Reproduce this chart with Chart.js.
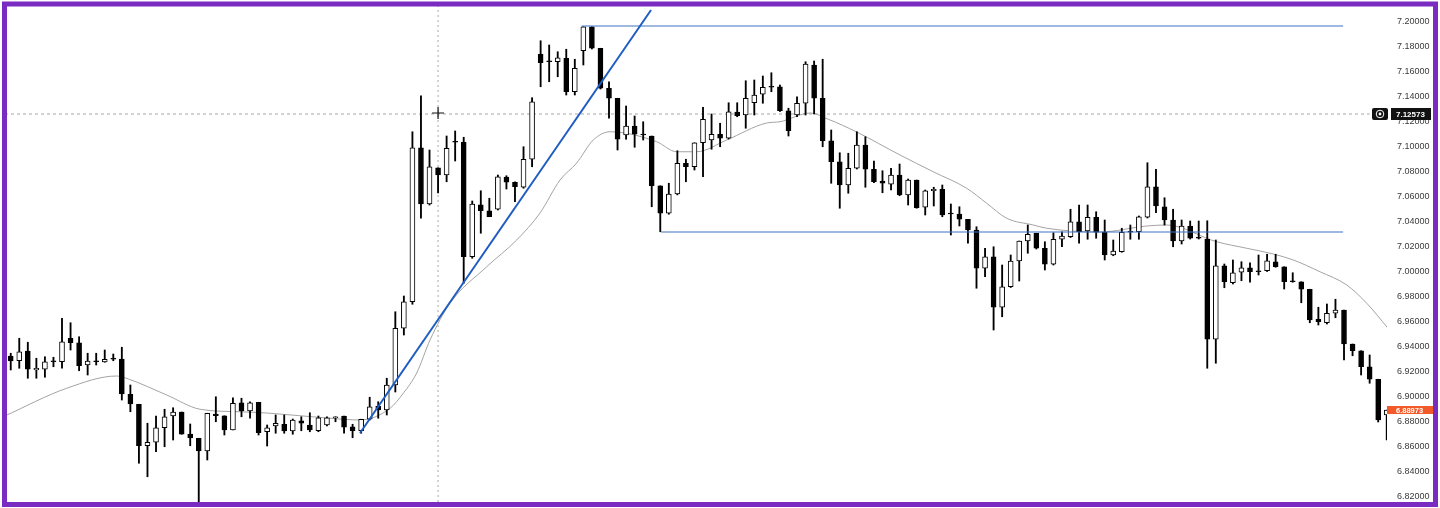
<!DOCTYPE html>
<html><head><meta charset="utf-8">
<script src="https://cdn.jsdelivr.net/npm/chart.js@4.4.1/dist/chart.umd.min.js"></script>
<style>html,body{margin:0;padding:0;background:#fff;overflow:hidden}canvas{display:block}</style>
</head><body>
<canvas id="c" width="1440" height="508"></canvas>
<script>
const open=[
6.9326,6.9288,6.9366,6.9214,6.9220,6.9280,6.9280,6.9468,6.9432,6.9254,
6.9280,6.9278,6.9300,6.9302,6.9020,6.8940,6.8608,6.8636,6.8752,6.8846,
6.8878,6.8702,6.8668,6.8566,6.8862,6.8848,6.8734,6.8952,6.8886,6.8956,
6.8720,6.8766,6.8780,6.8726,6.8808,6.8774,6.8728,6.8774,6.8832,6.8846,
6.8760,6.8728,6.8820,6.8926,6.8894,6.9094,6.9548,6.9760,7.0992,7.0542,
7.0832,7.0774,7.1036,7.1036,7.0120,7.0536,7.0488,7.0500,7.0758,7.0716,
7.0676,7.0900,7.1740,7.1680,7.1680,7.1708,7.1440,7.1768,7.1960,7.1788,
7.1468,7.1388,7.1094,7.1166,7.1094,7.1086,7.0688,7.0468,7.0622,7.0868,
7.0840,7.1032,7.1054,7.1100,7.1068,7.1278,7.1254,7.1352,7.1420,7.1476,
7.1480,7.1288,7.1254,7.1348,7.1654,7.1388,7.1048,7.0880,7.0694,7.0828,
7.1014,7.0820,7.0726,7.0700,7.0774,7.0614,7.0734,7.0516,7.0648,7.0660,
7.0462,7.0462,7.0420,7.0334,7.0028,7.0120,6.9716,6.9880,7.0086,7.0246,
7.0308,7.0188,7.0060,7.0260,7.0280,7.0400,7.0326,7.0436,7.0316,7.0134,
7.0160,7.0316,7.0320,7.0436,7.0680,7.0520,7.0414,7.0246,7.0366,7.0268,
7.0262,6.9460,7.0048,6.9912,6.9996,7.0032,7.0000,7.0008,7.0080,7.0040,
6.9920,6.9920,6.9860,6.9620,6.9592,6.9668,6.9694,6.9422,6.9368,6.9240,
6.9140,6.8854];
const close=[
6.9286,6.9360,6.9220,6.9228,6.9280,6.9280,6.9440,6.9432,6.9248,6.9286,
6.9280,6.9300,6.9300,6.9022,6.8942,6.8608,6.8636,6.8752,6.8840,6.8878,
6.8700,6.8670,6.8566,6.8868,6.8848,6.8734,6.8948,6.8886,6.8952,6.8712,
6.8752,6.8788,6.8726,6.8814,6.8788,6.8734,6.8832,6.8832,6.8840,6.8756,
6.8728,6.8820,6.8920,6.8894,6.9094,6.9548,6.9760,7.0992,7.0542,7.0840,
7.0774,7.0988,7.1036,7.0120,7.0542,7.0488,7.0440,7.0760,7.0716,7.0680,
7.0900,7.1360,7.1672,7.1680,7.1712,7.1440,7.1628,7.1960,7.1788,7.1468,
7.1388,7.1060,7.1166,7.1100,7.1094,7.0688,7.0468,7.0622,7.0868,7.0840,
7.1032,7.1220,7.1100,7.1068,7.1280,7.1248,7.1388,7.1414,7.1476,7.1476,
7.1288,7.1128,7.1348,7.1662,7.1388,7.1048,7.0880,7.0694,7.0828,7.1014,
7.0820,7.0720,7.0708,7.0774,7.0614,7.0734,7.0512,7.0648,7.0660,7.0454,
7.0462,7.0420,7.0334,7.0028,7.0120,6.9716,6.9880,7.0086,7.0246,7.0300,
7.0188,7.0060,7.0260,7.0286,7.0400,7.0320,7.0436,7.0316,7.0134,7.0166,
7.0316,7.0316,7.0440,7.0680,7.0526,7.0414,7.0246,7.0366,7.0268,7.0268,
6.9460,7.0048,6.9920,6.9992,7.0032,7.0000,7.0000,7.0088,7.0040,6.9920,
6.9920,6.9860,6.9614,6.9600,6.9668,6.9694,6.9422,6.9368,6.9240,6.9140,
6.8814,6.8894];
const high=[
6.9348,6.9468,6.9436,6.9308,6.9320,6.9316,6.9628,6.9592,6.9480,6.9348,
6.9348,6.9374,6.9342,6.9396,6.9094,6.8940,6.8788,6.8846,6.8900,6.8912,
6.8878,6.8782,6.8668,6.8868,6.9000,6.8848,6.8992,6.8988,6.8960,6.8956,
6.8774,6.8854,6.8854,6.8822,6.8840,6.8872,6.8846,6.8840,6.8840,6.8846,
6.8780,6.8820,6.8996,6.8960,6.9148,6.9680,6.9806,7.1120,7.1408,7.0974,
7.0832,7.1086,7.1126,7.1076,7.0566,7.0648,7.0588,7.0774,7.0768,7.0720,
7.1000,7.1392,7.1848,7.1814,7.1760,7.1780,7.1700,7.1960,7.1960,7.1788,
7.1520,7.1388,7.1326,7.1246,7.1200,7.1086,7.0688,7.0708,7.0968,7.0900,
7.1032,7.1316,7.1262,7.1188,7.1352,7.1352,7.1528,7.1534,7.1566,7.1592,
7.1494,7.1308,7.1400,7.1680,7.1686,7.1700,7.1134,7.0952,7.0948,7.1120,
7.1080,7.0886,7.0808,7.0828,7.0862,7.0742,7.0734,7.0654,7.0676,7.0694,
7.0542,7.0520,7.0420,7.0360,7.0188,7.0200,7.0054,7.0134,7.0246,7.0374,
7.0308,7.0240,7.0312,7.0320,7.0500,7.0534,7.0534,7.0480,7.0414,7.0254,
7.0348,7.0374,7.0446,7.0872,7.0820,7.0592,7.0500,7.0414,7.0406,7.0406,
7.0408,7.0254,7.0062,7.0094,7.0080,7.0072,7.0134,7.0140,7.0140,7.0040,
6.9992,6.9920,6.9860,6.9716,6.9742,6.9780,6.9694,6.9422,6.9368,6.9334,
6.9140,6.8894];
const low=[
6.9214,6.9228,6.9148,6.9148,6.9156,6.9240,6.9228,6.9374,6.9208,6.9174,
6.9254,6.9276,6.9288,6.8974,6.8880,6.8468,6.8360,6.8560,6.8600,6.8654,
6.8700,6.8608,6.8120,6.8494,6.8800,6.8694,6.8734,6.8840,6.8828,6.8694,
6.8606,6.8708,6.8708,6.8700,6.8728,6.8720,6.8720,6.8766,6.8800,6.8708,
6.8672,6.8708,6.8814,6.8828,6.8854,6.9038,6.9494,6.9740,7.0428,7.0534,
7.0630,7.0720,7.0886,6.9908,7.0108,7.0308,7.0440,7.0494,7.0662,7.0560,
7.0668,7.0840,7.1480,7.1520,7.1560,7.1414,7.1414,7.1654,7.1782,7.1462,
7.1228,7.0974,7.1060,7.0996,7.1054,7.0520,7.0320,7.0460,7.0615,7.0720,
7.0814,7.0760,7.0980,7.1000,7.1062,7.1240,7.1148,7.1254,7.1348,7.1440,
7.1282,7.1086,7.1240,7.1254,7.1262,7.1000,7.0708,7.0508,7.0628,7.0822,
7.0676,7.0712,7.0632,7.0654,7.0608,7.0534,7.0508,7.0454,7.0526,7.0440,
7.0294,7.0366,7.0228,6.9868,6.9960,6.9534,6.9640,6.9874,6.9926,7.0148,
7.0182,7.0014,7.0054,7.0200,7.0274,7.0228,7.0260,7.0268,7.0094,7.0128,
7.0156,7.0260,7.0260,7.0430,7.0472,7.0374,7.0200,7.0222,7.0262,7.0262,
6.9228,6.9268,6.9872,6.9902,6.9928,6.9916,6.9974,7.0002,7.0036,6.9862,
6.9916,6.9752,6.9592,6.9574,6.9582,6.9632,6.9294,6.9328,6.9174,6.9108,
6.8798,6.8654];
// moving average, read at points along the grey curve (x = bar index)
const maIdx=[-0.7,6.55,12.4,13.76,18.25,22.15,26.83,29.95,37.36,40.87,44.38,45.93,47.5,49.06,51.4,55.69,59.2,61.93,64.27,66.22,68.16,70.12,75.58,77.92,80.26,83.77,88.45,90.0,93.52,95.66,98.98,104.05,107.94,111.85,114.19,116.53,119.64,121.21,127.45,132.91,135.25,141.1,144.61,147.73,150.07,153.19,156.32,158.66,161.1];
const maVal=[6.8846,6.9068,6.9166,6.9142,6.9014,6.8900,6.8880,6.8870,6.8828,6.8814,6.8908,6.9028,6.9190,6.9454,6.9748,7.0040,7.0254,7.0470,7.0734,7.0870,7.1054,7.1120,7.1040,7.0960,7.0960,7.1054,7.1190,7.1200,7.1270,7.1220,7.1118,7.0934,7.0800,7.0668,7.0548,7.0428,7.0374,7.0348,7.0318,7.0366,7.0374,7.0240,7.0188,7.0142,7.0094,7.0000,6.9894,6.9748,6.9552];
const yTicks=[6.82,6.84,6.86,6.88,6.90,6.92,6.94,6.96,6.98,7.00,7.02,7.04,7.06,7.08,7.10,7.12,7.14,7.16,7.18,7.20];
const resistanceLine={x:[66.8,155.9],y:[7.1966,7.1966]};
const supportLine={x:[76.1,155.9],y:[7.0318,7.0318]};
const trendLine={x:[40.87,74.92],y:[6.8710,7.2094]};
const crossPrice=7.1262, crossIdx=50;
const crossLabel='7.12573', bidLabel='6.88973';
const yMin=6.8150, yMax=7.2134, xMin=-0.67, xMax=161.03;

const idx=open.map((_,i)=>i);
const isUp=idx.map(i=>close[i]>open[i]);
const pts=(o)=>o.x.map((x,i)=>({x:x,y:o.y[i]}));

const overlay={
  id:'overlay',
  afterDraw(chart){
    const ctx=chart.ctx, xs=chart.scales.x, ys=chart.scales.y;
    const cx=xs.getPixelForValue(crossIdx), cy=ys.getPixelForValue(7.1270);
    ctx.save();
    ctx.strokeStyle='#111';ctx.lineWidth=1.2;
    ctx.beginPath();ctx.moveTo(cx-6,cy);ctx.lineTo(cx+6,cy);ctx.moveTo(cx,cy-6);ctx.lineTo(cx,cy+6);ctx.stroke();
    const by=ys.getPixelForValue(crossPrice);
    ctx.fillStyle='#111';
    ctx.beginPath();ctx.roundRect(1372,by-6,16,12,2);ctx.fill();
    ctx.fillRect(1391,by-6,40,12);
    ctx.strokeStyle='#fff';ctx.lineWidth=1;
    ctx.beginPath();ctx.arc(1380,by,3.8,0,Math.PI*2);ctx.stroke();
    ctx.fillStyle='#fff';ctx.beginPath();ctx.arc(1380,by,1.4,0,Math.PI*2);ctx.fill();
    ctx.font='bold 8px "Liberation Sans"';ctx.textBaseline='middle';ctx.textAlign='left';
    ctx.fillText(crossLabel,1396,by+0.5);
    const ry=ys.getPixelForValue(close[close.length-1]);
    ctx.fillStyle='#f25a2a';
    ctx.fillRect(1387,ry-4,46,8);
    ctx.fillStyle='#fff';ctx.font='bold 7.5px "Liberation Sans"';
    ctx.fillText(bidLabel,1396,ry+0.5);
    ctx.strokeStyle='#7a2cc2';ctx.lineWidth=5;
    ctx.strokeRect(4.5,4,1431,500.5);
    ctx.restore();
  }
};

new Chart(document.getElementById('c'),{
  type:'bar',
  data:{datasets:[
    {type:'line',data:pts(trendLine),borderColor:'#1f5cc2',borderWidth:2,pointRadius:0,order:0},
    {type:'line',data:pts(resistanceLine),borderColor:'#4172c0',borderWidth:1.2,pointRadius:0,order:0},
    {type:'line',data:pts(supportLine),borderColor:'#4172c0',borderWidth:1.2,pointRadius:0,order:0},
    {type:'bar',data:idx.map(i=>({x:i,y:[Math.min(open[i],close[i]),Math.max(open[i],close[i])]})),
      backgroundColor:isUp.map(u=>u?'#ffffff':'#000000'),borderColor:'#000',borderWidth:1,borderSkipped:false,
      barThickness:5,minBarLength:1,grouped:false,order:1},
    {type:'bar',data:idx.map(i=>({x:i,y:[low[i],high[i]]})),backgroundColor:'#000',borderWidth:0,
      barThickness:1.2,grouped:false,order:2},
    {type:'line',data:maIdx.map((x,i)=>({x:x,y:maVal[i]})),borderColor:'#a3a3a3',borderWidth:1,pointRadius:0,
      cubicInterpolationMode:'monotone',order:3},
    {type:'line',data:[{x:xMin,y:crossPrice},{x:159,y:crossPrice}],borderColor:'#a8a8a8',borderWidth:1,borderDash:[3,3],pointRadius:0,order:4},
    {type:'line',data:[{x:crossIdx,y:yMax},{x:crossIdx,y:yMin}],borderColor:'#a8a8a8',borderWidth:1,borderDash:[2,3],pointRadius:0,order:4}
  ]},
  options:{
    responsive:false,animation:false,devicePixelRatio:1,
    layout:{padding:{left:5,right:6,top:5,bottom:5}},
    plugins:{legend:{display:false},tooltip:{enabled:false}},
    scales:{
      x:{type:'linear',min:xMin,max:xMax,display:false,offset:false},
      y:{position:'right',min:yMin,max:yMax,grid:{display:false,drawTicks:false},border:{display:false},
        afterBuildTicks:s=>{s.ticks=yTicks.map(v=>({value:v}));},
        afterFit:s=>{s.width=47;s.paddingTop=0;s.paddingBottom=0;},
        ticks:{padding:10,color:'#3a3a3a',font:{family:'Liberation Sans',size:9},callback:v=>Number(v).toFixed(5)}
      }
    }
  },
  plugins:[overlay]
});
</script>
</body></html>
